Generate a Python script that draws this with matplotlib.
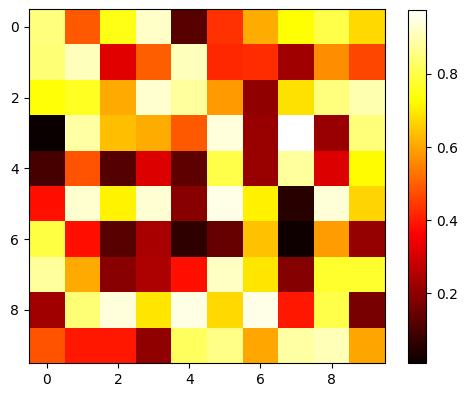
import numpy as np
import matplotlib
matplotlib.use('Agg')
import matplotlib.pyplot as plt

# values (rows 0..9, cols 0..9)
row0 = [0.85, 0.49, 0.75, 0.92, 0.12, 0.435, 0.61, 0.73, 0.80, 0.675]
row1 = [0.84, 0.91, 0.32, 0.50, 0.91, 0.42, 0.425, 0.227, 0.565, 0.464]
row2 = [0.734, 0.763, 0.608, 0.927, 0.879, 0.584, 0.203, 0.686, 0.85, 0.898]
row3 = [0.01, 0.888, 0.637, 0.613, 0.49, 0.941, 0.217, 0.975, 0.217, 0.845]
row4 = [0.10, 0.483, 0.116, 0.314, 0.131, 0.80, 0.217, 0.879, 0.314, 0.724]
row5 = [0.386, 0.927, 0.714, 0.932, 0.193, 0.951, 0.71, 0.055, 0.936, 0.666]
row6 = [0.792, 0.386, 0.123, 0.237, 0.064, 0.145, 0.642, 0.02, 0.589, 0.213]
row7 = [0.879, 0.608, 0.193, 0.246, 0.386, 0.917, 0.695, 0.189, 0.772, 0.772]
row8 = [0.227, 0.84, 0.941, 0.695, 0.946, 0.676, 0.951, 0.396, 0.80, 0.171]
row9 = [0.483, 0.396, 0.396, 0.203, 0.82, 0.859, 0.603, 0.888, 0.907, 0.599]

data = np.array([row0, row1, row2, row3, row4, row5, row6, row7, row8, row9])

fig = plt.figure(figsize=(4.74, 3.99), dpi=100)
ax = fig.add_axes([0.0612, 0.0902, 0.751, 0.887])
cax = fig.add_axes([0.861, 0.0902, 0.038, 0.885])

im = ax.imshow(data, cmap='hot', interpolation='nearest', aspect='auto')
fig.colorbar(im, cax=cax)

plt.savefig('out.png', dpi=100)
